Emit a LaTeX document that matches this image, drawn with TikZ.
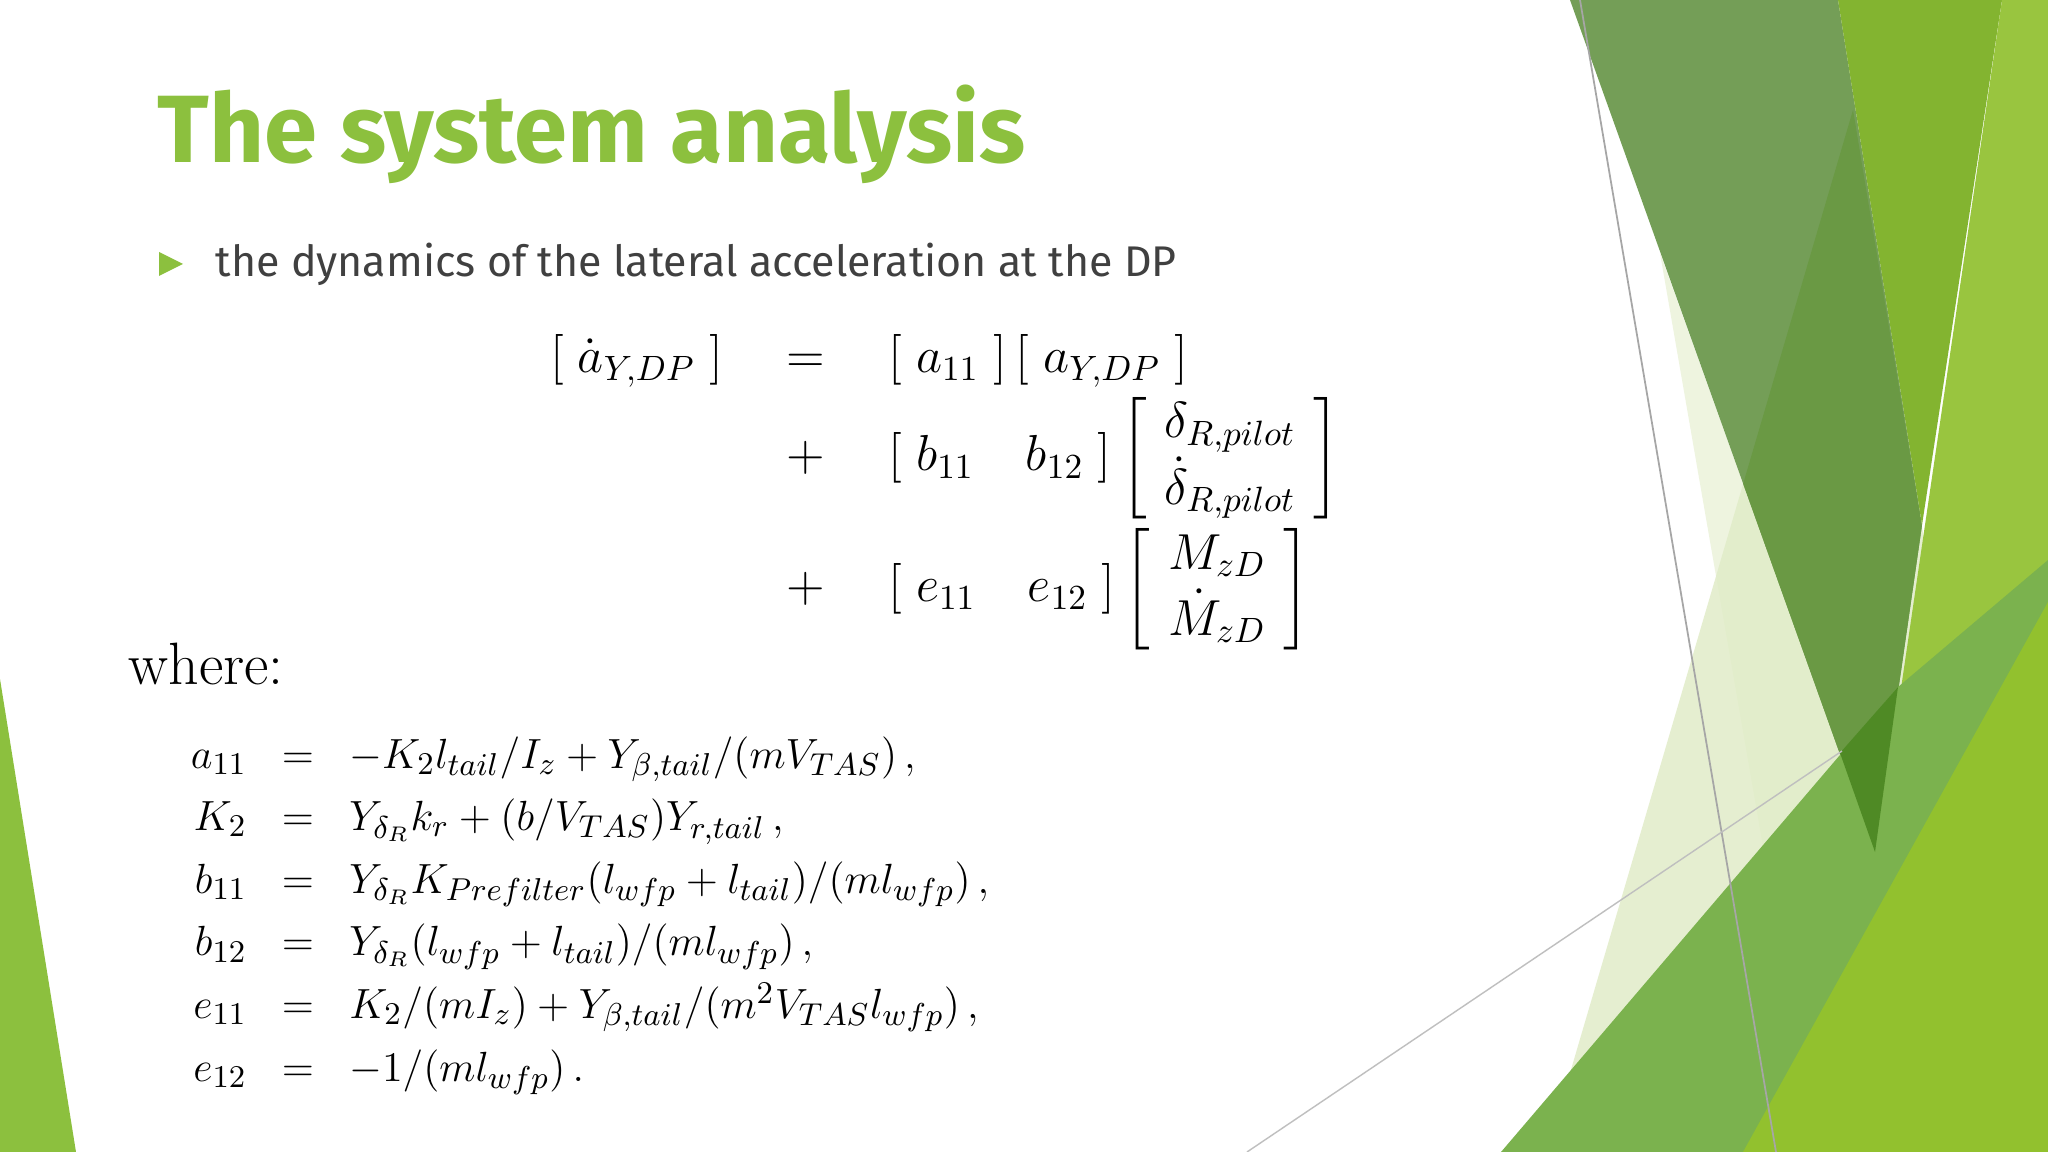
\documentclass[tikz,border=0pt]{standalone}
\usepackage{amsmath}
\usepackage{fontspec}
\setsansfont{Fira Sans}
\definecolor{tgreen}{HTML}{8CC03E}
\definecolor{olive}{HTML}{749E57}
\definecolor{olived}{HTML}{6A9944}
\definecolor{gB}{HTML}{83B430}
\definecolor{gC}{HTML}{99C53F}
\definecolor{pale}{HTML}{E1ECC8}
\definecolor{pale2}{HTML}{EEF4DF}
\definecolor{gE}{HTML}{7BB24E}
\definecolor{gF}{HTML}{4F8A25}
\definecolor{gG}{HTML}{92C12E}
\definecolor{txt}{HTML}{404040}
\begin{document}
\begin{tikzpicture}[x=0.01cm,y=-0.01cm]
\useasboundingbox (0,0) rectangle (2048,1152);
\fill[white] (0,0) rectangle (2048,1152);
% decorations
\fill[tgreen] (0,679) -- (76,1152) -- (0,1152) -- cycle;
\fill[pale2] (1660,253) -- (1840,753) -- (1797,1043) -- cycle;
\fill[pale,fill opacity=0.85] (1853,110) -- (1960,757) -- (1570,1073) -- cycle;
\fill[olive] (1570,0) -- (1838,0) -- (1922,525) -- (1875,852) -- cycle;
\begin{scope}
\clip (1570,0) -- (1838,0) -- (1922,525) -- (1875,852) -- cycle;
\fill[olived] (1853,110) -- (1960,757) -- (1570,1073) -- cycle;
\end{scope}
\fill[gB] (1838,0) -- (2002,0) -- (1922,525) -- cycle;
\fill[gC] (2002,0) -- (2048,0) -- (2048,1152) -- (1833,1152) -- cycle;
\fill[gE] (1501,1152) -- (1898,687) -- (2048,560) -- (2048,1152) -- cycle;
\fill[gF] (1840,753) -- (1898,687) -- (1875,852) -- cycle;
\fill[gG] (1743,1152) -- (2048,602) -- (2048,1152) -- cycle;
\draw[gray!70,line width=0.5pt] (1580,0) -- (1776,1152);
\draw[gray!50,line width=0.4pt] (1247,1152) -- (1842,751);
% title
\node[anchor=base west,inner sep=0pt,text=tgreen,font=\sffamily\bfseries\fontsize{27.2}{32}\selectfont] (title) at (157,163) {The system analysis};
\fill[tgreen] (159,252) -- (183,264) -- (159,276) -- cycle;
\node[anchor=base west,inner sep=0pt,text=txt,font=\sffamily\fontsize{12.2}{15}\selectfont] (bul) at (215,277) {the dynamics of the lateral acceleration at the DP};
% main equation
\node[inner sep=0pt,font=\fontsize{14.7}{18.5}\selectfont] (eq) at (945,491) {$\begin{array}{rcl}
\left[\;\dot a_{Y,DP}\;\right] &\;\;=\;\;& \left[\;a_{11}\;\right]\left[\;a_{Y,DP}\;\right]\\[0pt]
 &+& \left[\;b_{11}\quad b_{12}\;\right]\left[\begin{array}{c}\delta_{R,pilot}\\ \dot\delta_{R,pilot}\end{array}\right]\\[3pt]
 &+& \left[\;e_{11}\quad e_{12}\;\right]\left[\begin{array}{c}M_{zD}\\ \dot M_{zD}\end{array}\right]
\end{array}$};
\node[anchor=base west,inner sep=0pt,font=\fontsize{17}{20}\selectfont] (where) at (128,685) {where:};
\node[inner sep=0pt,font=\fontsize{12.6}{17.8}\selectfont] (defs) at (590,912) {$\begin{array}{rcl}
a_{11} &=& -K_2 l_{tail}/I_z + Y_{\beta,tail}/(mV_{TAS})\,,\\
K_2 &=& Y_{\delta_R}k_r + (b/V_{TAS})Y_{r,tail}\,,\\
b_{11} &=& Y_{\delta_R}K_{Prefilter}(l_{wfp}+l_{tail})/(ml_{wfp})\,,\\
b_{12} &=& Y_{\delta_R}(l_{wfp}+l_{tail})/(ml_{wfp})\,,\\
e_{11} &=& K_2/(mI_z) + Y_{\beta,tail}/(m^2V_{TAS}l_{wfp})\,,\\
e_{12} &=& -1/(ml_{wfp})\,.
\end{array}$};
\end{tikzpicture}
\end{document}
